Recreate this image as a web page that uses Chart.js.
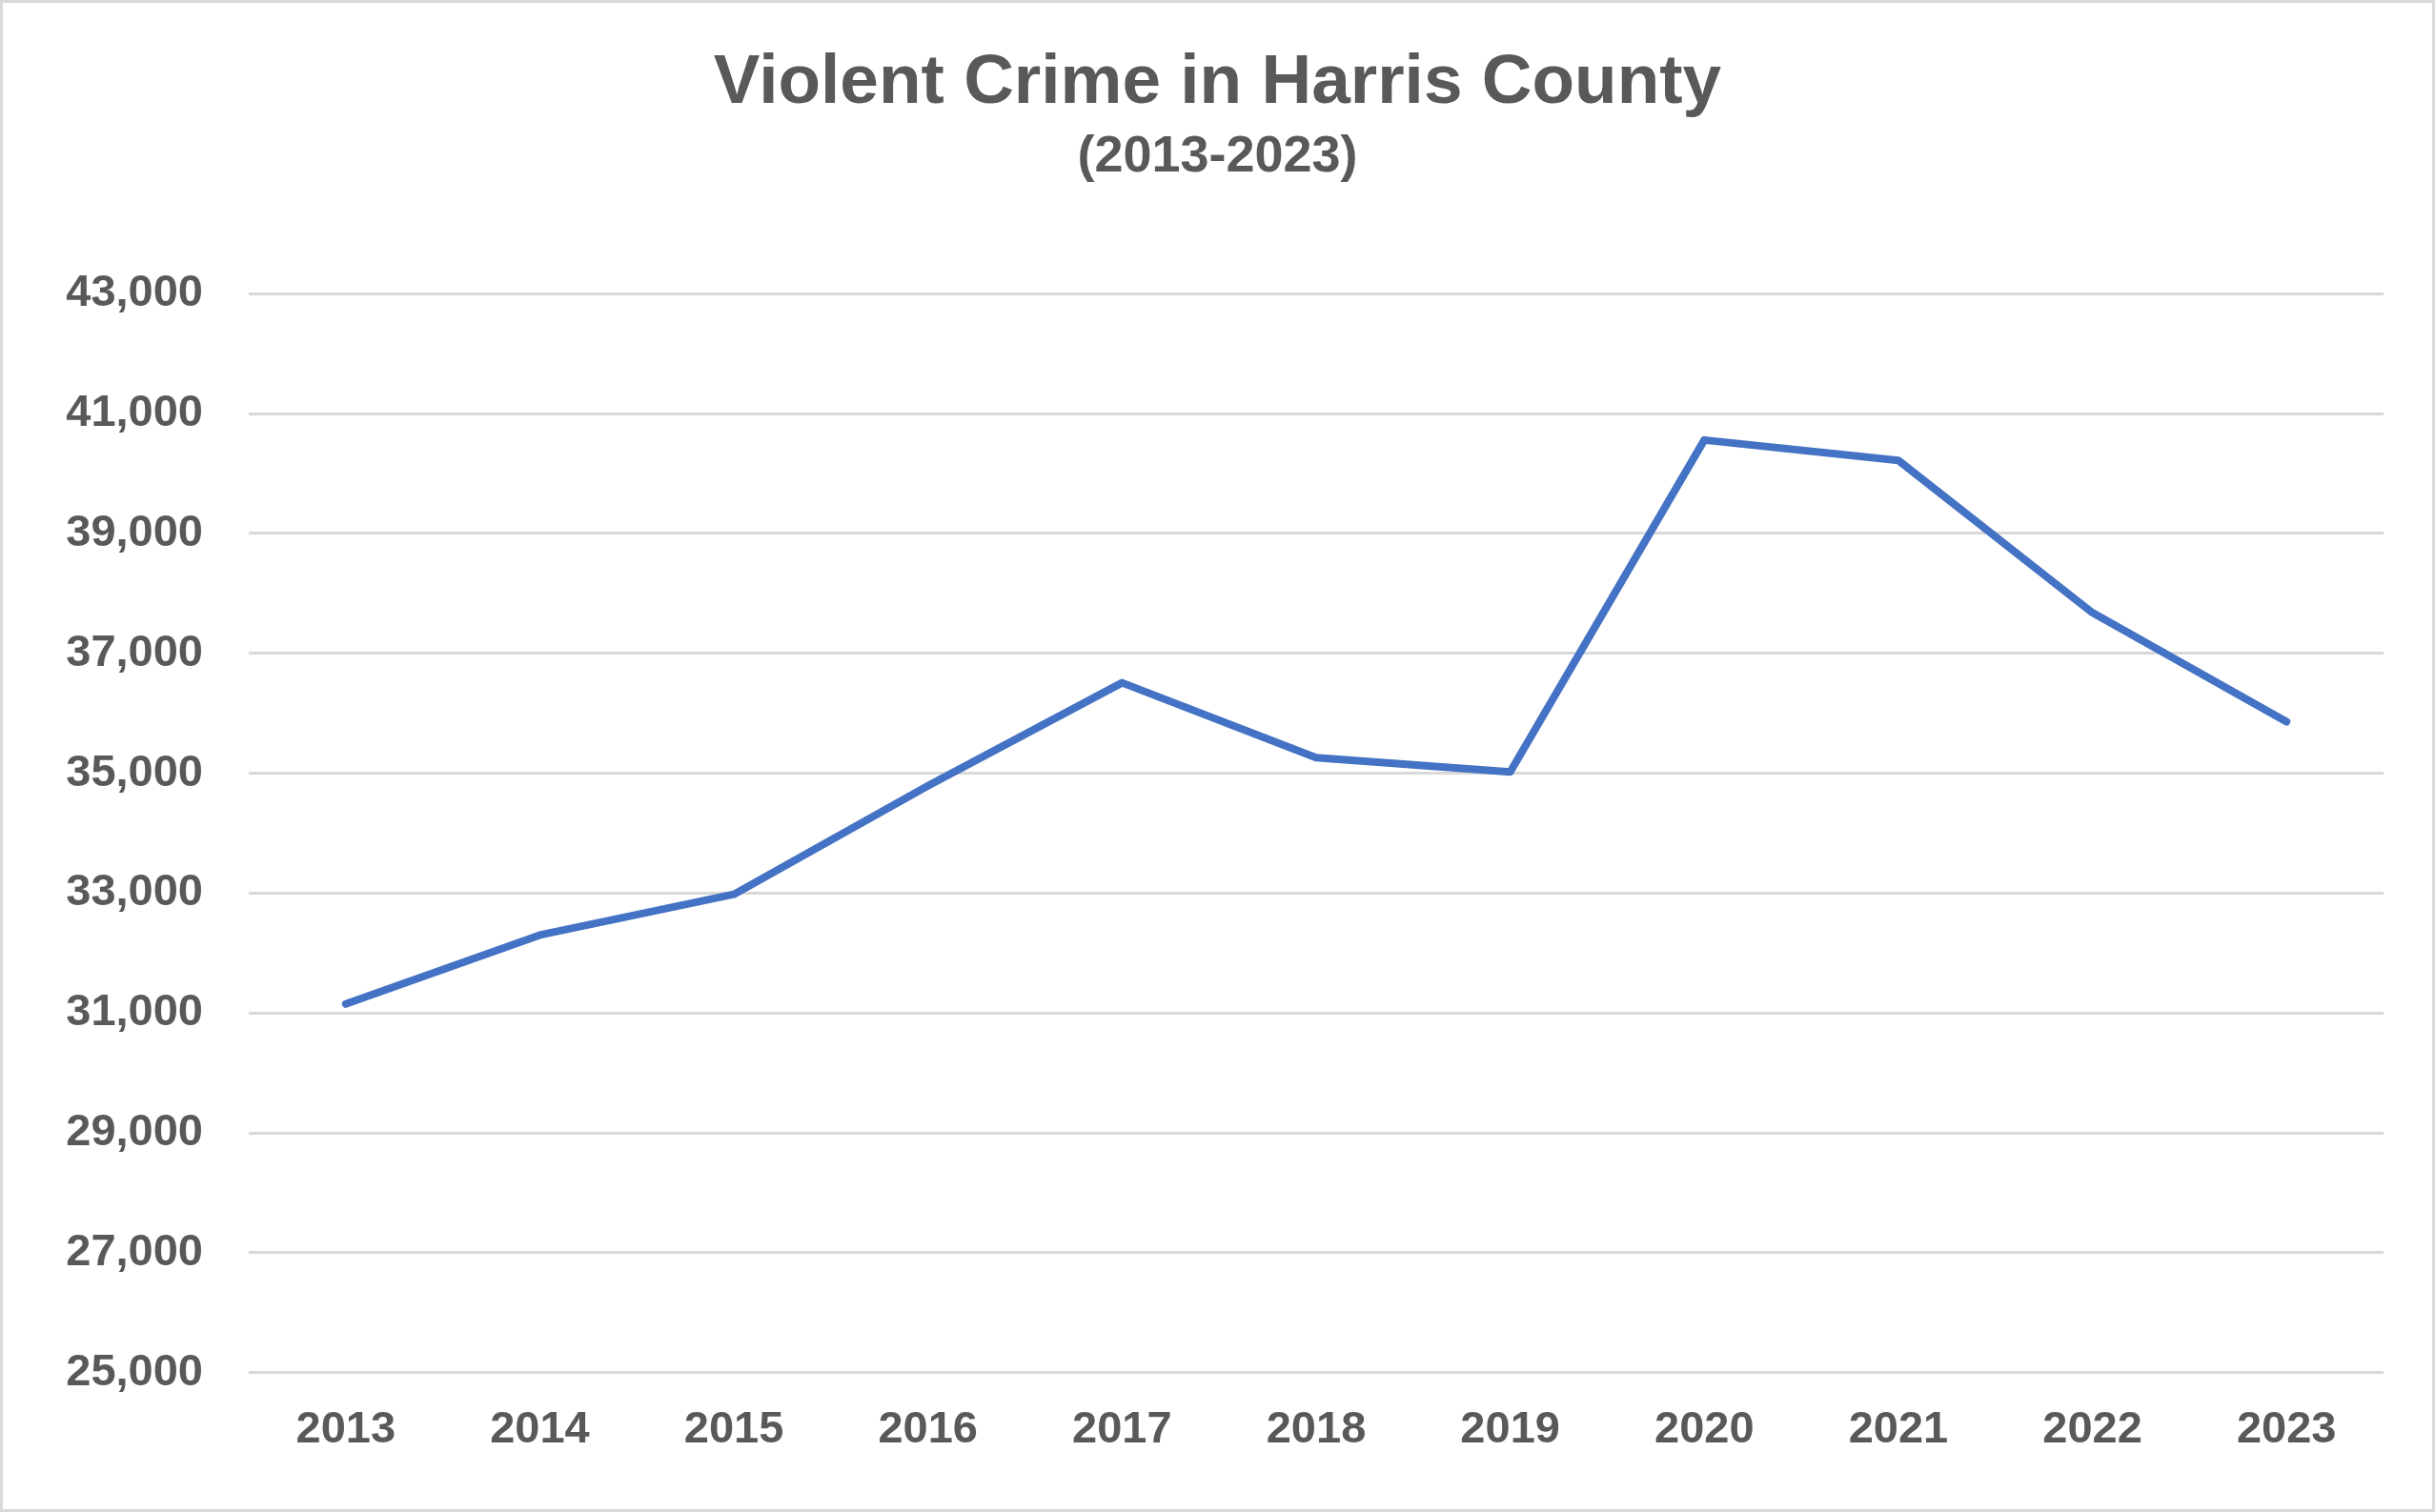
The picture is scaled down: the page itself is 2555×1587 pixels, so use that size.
<!DOCTYPE html>
<html>
<head>
<meta charset="utf-8">
<title>Violent Crime in Harris County</title>
<script src="https://cdn.jsdelivr.net/npm/chart.js@4.4.1/dist/chart.umd.min.js"></script>
<style>
  html, body { margin: 0; padding: 0; background: #fff; }
  canvas { display: block; }
</style>
</head>
<body>
<canvas id="myChart" width="2555" height="1587"></canvas>
<script>
// data
const years = ['2013', '2014', '2015', '2016', '2017', '2018', '2019', '2020', '2021', '2022', '2023'];
const violentCrimes = [31150, 32300, 32980, 34790, 36510, 35260, 35020, 40560, 40220, 37680, 35860];
const yTicks = [25000, 27000, 29000, 31000, 33000, 35000, 37000, 39000, 41000, 43000];

const textColor = '#595959';
const gridColor = '#d9d9d9';
const fontFamily = '"Liberation Sans", Arial, sans-serif';

// white background + thin grey frame like the exported chart
const frame = {
    id: 'frame',
    beforeDraw(chart) {
        const c = chart.ctx;
        c.save();
        c.fillStyle = '#ffffff';
        c.fillRect(0, 0, chart.width, chart.height);
        c.strokeStyle = gridColor;
        c.lineWidth = 3;
        c.strokeRect(1.5, 1.5, chart.width - 3, chart.height - 3);
        c.restore();
    }
};

const ctx = document.getElementById('myChart');

new Chart(ctx, {
    type: 'line',
    data: {
        labels: years,
        datasets: [{
            label: 'Violent Crime',
            data: violentCrimes,
            borderColor: '#4472C4',
            backgroundColor: '#4472C4',
            borderWidth: 8,
            borderCapStyle: 'round',
            borderJoinStyle: 'round',
            pointRadius: 0,
            tension: 0
        }]
    },
    options: {
        responsive: false,
        animation: false,
        devicePixelRatio: 1,
        layout: {
            padding: { left: 0, right: 0, top: 0, bottom: 26 }
        },
        scales: {
            x: {
                offset: true,
                grid: { display: false, drawTicks: false },
                border: { display: false },
                ticks: {
                    color: textColor,
                    padding: 32,
                    maxRotation: 0,
                    font: { family: fontFamily, size: 47, weight: 'bold' }
                }
            },
            y: {
                min: yTicks[0],
                max: yTicks[yTicks.length - 1],
                afterBuildTicks: (scale) => {
                    scale.ticks = yTicks.map(v => ({ value: v }));
                },
                afterFit: (scale) => {
                    scale.width = 261;
                },
                grid: { color: gridColor, lineWidth: 3, drawTicks: false },
                border: { display: false },
                ticks: {
                    color: textColor,
                    padding: 48,
                    font: { family: fontFamily, size: 47, weight: 'bold' },
                    callback: (v) => Number(v).toLocaleString('en-US')
                }
            },
            // empty right-hand gutter so the title stays centred on the page
            yRight: {
                position: 'right',
                grid: { display: false, drawTicks: false },
                border: { display: false },
                ticks: { display: false },
                afterFit: (scale) => {
                    scale.width = 54;
                }
            }
        },
        plugins: {
            legend: { display: false },
            tooltip: { enabled: false },
            title: {
                display: true,
                text: 'Violent Crime in Harris County',
                color: textColor,
                font: { family: fontFamily, size: 73, weight: 'bold', lineHeight: 1.2 },
                padding: { top: 44, bottom: 1 }
            },
            subtitle: {
                display: true,
                text: '(2013-2023)',
                color: textColor,
                font: { family: fontFamily, size: 54, weight: 'bold', lineHeight: 1.2 },
                padding: { top: 0, bottom: 111 }
            }
        }
    },
    plugins: [frame]
});
</script>
</body>
</html>
